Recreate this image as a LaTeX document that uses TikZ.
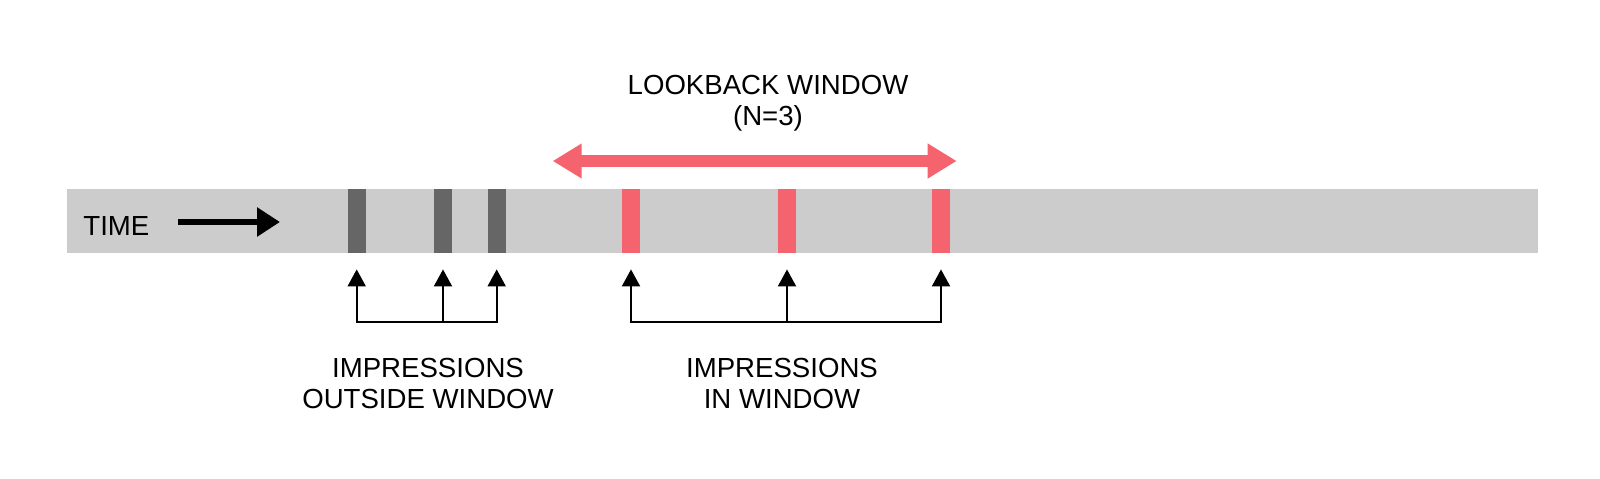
\documentclass[tikz,border=0pt]{standalone}
\usepackage{fontspec}
\setmainfont{Liberation Sans}
\usetikzlibrary{arrows.meta,positioning}
\definecolor{barGray}{HTML}{CCCCCC}
\definecolor{oldGray}{HTML}{666666}
\definecolor{winRed}{HTML}{F5636F}

\begin{document}
\begin{tikzpicture}[
  x=0.5pt,y=-0.5pt,
  lbl/.style={align=center,inner sep=0pt,font=\fontsize{13.8}{15.5}\selectfont},
  imp/.style={fill,minimum width=9pt,minimum height=32pt,inner sep=0pt},
  old/.style={imp,oldGray},
  hit/.style={imp,winRed},
  up/.style={{Triangle[length=8.5pt,width=9pt]}-{Triangle[length=8.5pt,width=9pt]},line width=1pt},
  tick/.style={-{Triangle[length=8.5pt,width=9pt]},line width=1pt}
]
\useasboundingbox[fill=white] (0,0) rectangle (1600,478);
% time line
\node[fill=barGray,minimum width=735.5pt,minimum height=32pt,inner sep=0pt] (line) at (802.5,221) {};
\node[lbl,anchor=base west] (time) at (83,235) {TIME};
\coordinate (ts) at (177.7,222);
\coordinate (te) at (280,222);
\draw[line width=3.25pt,-{Triangle[length=11.5pt,width=14pt]}] (ts) -- (te);
% impressions
\node[old] (o1) at (356.7,221) {};
\node[old] (o2) at (443,221) {};
\node[old] (o3) at (496.7,221) {};
\node[hit] (r1) at (631,221) {};
\node[hit] (r2) at (787,221) {};
\node[hit] (r3) at (941,221) {};
% lookback window
\node[lbl,anchor=north] (lbk) at (768,75) {LOOKBACK WINDOW\\(N=3)};
\coordinate (wl) at (552.7,161);
\coordinate (wr) at (956.7,161);
\draw[winRed,line width=6pt,{Triangle[length=14.5pt,width=16.5pt]}-{Triangle[length=14.5pt,width=16.5pt]}] (wl) -- (wr);
% brackets
\coordinate (ob) at (0,322);
\draw[up] ([yshift=-8pt]o1.south) -- (o1.south |- ob) -- (o3.south |- ob) -- ([yshift=-8pt]o3.south);
\draw[tick] (o2.south |- ob) -- ([yshift=-8pt]o2.south);
\draw[up] ([yshift=-8pt]r1.south) -- (r1.south |- ob) -- (r3.south |- ob) -- ([yshift=-8pt]r3.south);
\draw[tick] (r2.south |- ob) -- ([yshift=-8pt]r2.south);
\node[lbl,anchor=north] (outl) at (428,358) {IMPRESSIONS\\OUTSIDE WINDOW};
\node[lbl,anchor=north] (inl) at (782,358) {IMPRESSIONS\\IN WINDOW};
\end{tikzpicture}
\end{document}
